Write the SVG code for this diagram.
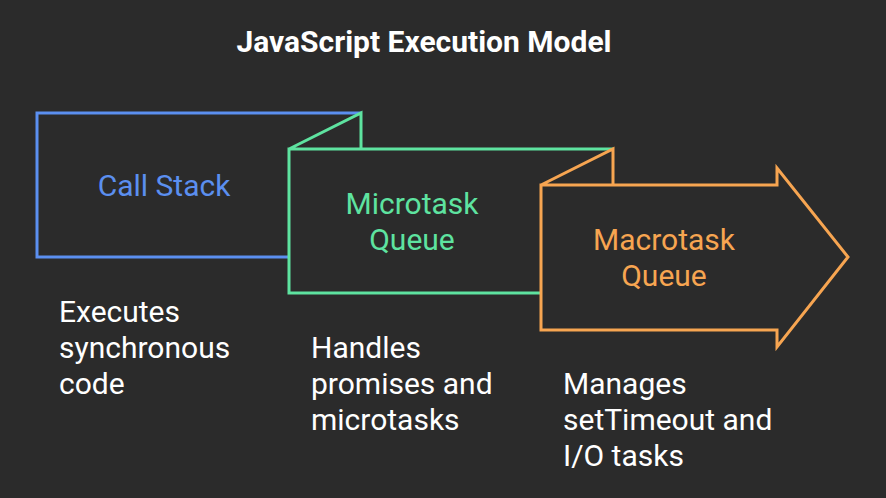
<svg xmlns="http://www.w3.org/2000/svg" width="886" height="498" viewBox="0 0 886 498">
<style>
.s{fill:none;stroke-width:3;stroke-linejoin:miter}
.b{stroke:#5b8ff0}.g{stroke:#5ee3a0}.o{stroke:#f7a551}
.lbl{font-family:Roboto,"Liberation Sans",sans-serif;font-size:30px;text-anchor:middle}
.d{font-family:Roboto,"Liberation Sans",sans-serif;font-size:30px;fill:#ffffff}
</style>
<rect width="886" height="498" fill="#2b2b2b"/>
<text x="424" y="52" text-anchor="middle" font-family="Roboto,'Liberation Sans',sans-serif" font-size="30" font-weight="bold" fill="#ffffff">JavaScript Execution Model</text>
<g id="callstack">
<path class="s b" d="M289,257 H37 V113 H361"/>
<text class="lbl" x="164" y="196" fill="#5b8ff0">Call Stack</text>
<text class="d"><tspan x="59" y="322">Executes</tspan><tspan x="59" y="358">synchronous</tspan><tspan x="59" y="394">code</tspan></text>
</g>
<g id="microtask">
<path class="s g" d="M541,293 H289 V149 H613 M289,149 L361,113 V149"/>
<text class="lbl" x="412" y="214" fill="#5ee3a0">Microtask</text>
<text class="lbl" x="412" y="250" fill="#5ee3a0">Queue</text>
<text class="d"><tspan x="311" y="358">Handles</tspan><tspan x="311" y="394">promises and</tspan><tspan x="311" y="430">microtasks</tspan></text>
</g>
<g id="macrotask">
<path class="s o" d="M541,185 H777 V168 L848,257 L777,347 V330 H541 Z M541,185 L613,149 V185"/>
<text class="lbl" x="664" y="250" fill="#f7a551">Macrotask</text>
<text class="lbl" x="664" y="286" fill="#f7a551">Queue</text>
<text class="d"><tspan x="563" y="394">Manages</tspan><tspan x="563" y="430">setTimeout and</tspan><tspan x="563" y="466">I/O tasks</tspan></text>
</g>
<g id="connectors"/>
</svg>
